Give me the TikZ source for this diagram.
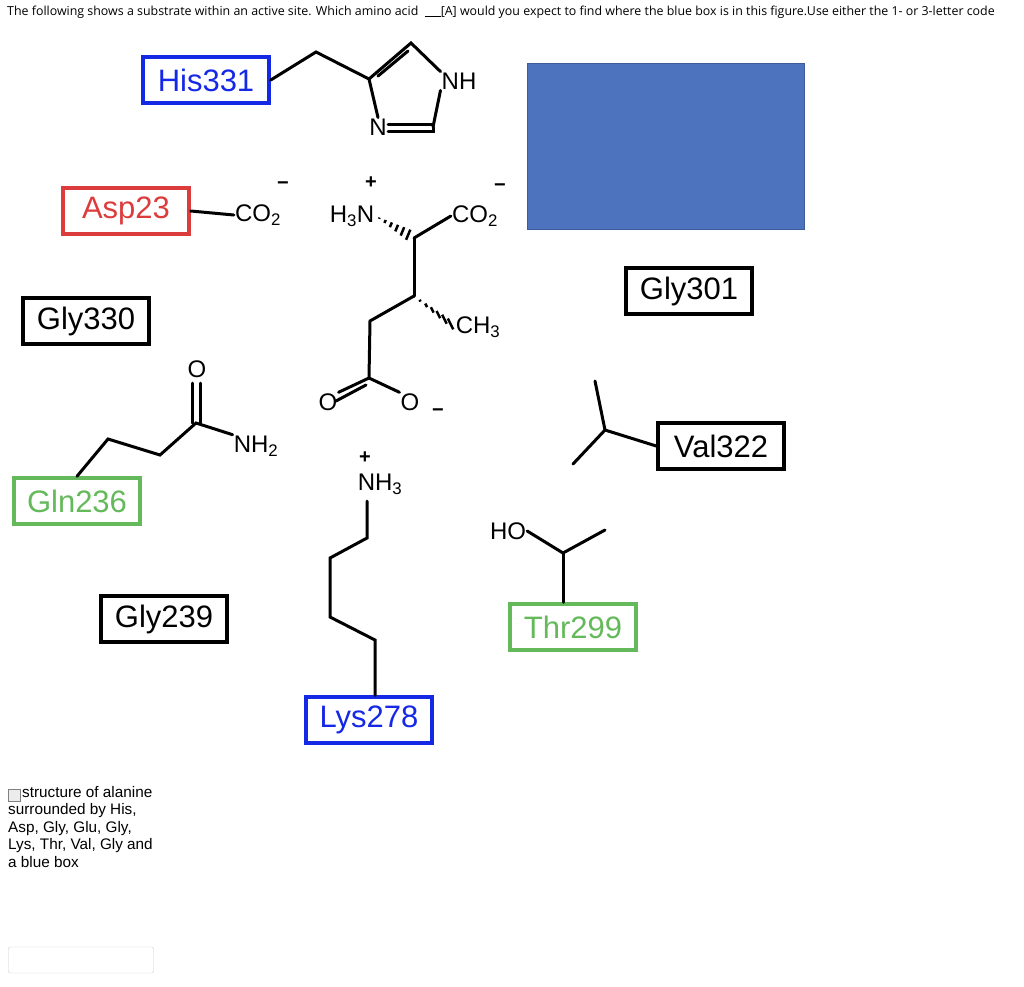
\documentclass[tikz,border=0pt]{standalone}
\usepackage{fontspec}
\usetikzlibrary{calc}
\setmainfont{Liberation Sans}
\newfontfamily\qfont{Open Sans}
\definecolor{hisblue}{RGB}{20,40,230}
\definecolor{aspred}{RGB}{220,60,60}
\definecolor{glngreen}{RGB}{100,185,90}
\definecolor{boxblue}{RGB}{78,115,190}
\begin{document}
\begin{tikzpicture}[x=1pt,y=-1pt,
  res/.style={draw,line width=3.5pt,font=\fontsize{31}{31}\selectfont,inner sep=0pt,minimum height=46pt,minimum width=126pt},
  bond/.style={line width=3pt,line cap=round},
  lbl/.style={font=\fontsize{24}{24}\selectfont,inner sep=1pt},
  chg/.style={font=\fontsize{20}{20}\selectfont\bfseries,inner sep=0pt}]
\useasboundingbox (0,0) rectangle (1024,986);
\node[anchor=west,font=\qfont\fontsize{12.4}{13}\selectfont,inner sep=0pt] (q) at (7,12) {The following shows a substrate within an active site. Which amino acid \ \underline{\hspace{16pt}}[A] would you expect to find where the blue box is in this figure.Use either the 1- or 3-letter code};
% residue boxes
\node[res,hisblue,text=hisblue] (his) at (206,80) {His331};
\node[res,aspred,text=aspred] (asp) at (126,211) {Asp23};
\node[res] (g330) at (86,321) {Gly330};
\node[res,glngreen,text=glngreen] (gln) at (77,501) {Gln236};
\node[res] (g239) at (164,619) {Gly239};
\node[res,hisblue,text=hisblue] (lys) at (369,720) {Lys278};
\node[res] (g301) at (689,291) {Gly301};
\node[res] (val) at (721,446) {Val322};
\node[res,glngreen,text=glngreen] (thr) at (573,627) {Thr299};
\node[draw=boxblue!80!black,fill=boxblue,minimum width=277pt,minimum height=166pt,inner sep=0pt] (bb) at (666,146) {};
% His
\coordinate (h1) at (316,52); \coordinate (c1) at (369,79); \coordinate (c2) at (411,43);
\coordinate (c3) at (433,127);
\node[lbl] (nh) at (459,81) {NH};
\node[lbl] (nn) at (378,127) {N};
\draw[bond] (his.east) -- (h1) -- (c1) -- (c2) -- (nh.north west);
\draw[bond] (nh.south west) -- (c3);
\draw[bond] (c1) -- (nn.north);
\draw[bond] (378,76) -- (408,51);
\draw[bond] (388,124) -- (433,124);
\draw[bond] (388,131) -- (433,131) -- (c3);
% Asp
\node[lbl] (co2a) at (258,215) {CO\textsubscript{2}};
\node[chg] at (283,186) {\textminus};
\draw[bond] (asp.east) -- (co2a.west);
% alanine-like substrate
\node[lbl] (h3n) at (352,216) {H\textsubscript{3}N};
\node[chg] at (371,183) {+};
\node[lbl] (co2b) at (475,216) {CO\textsubscript{2}};
\node[chg] at (500,188) {\textminus};
\coordinate (ca) at (414,238); \coordinate (cb) at (414,296);
\foreach \t in {0.1,0.25,0.4,0.55,0.7,0.85}
  \draw[line width=2.5pt] ($(h3n.east)!\t!(ca)+(-\t*2.5,\t*6)$) -- ($(h3n.east)!\t!(ca)+(\t*2.5,-\t*6)$);
\draw[bond] (ca) -- (co2b.west) ; \draw[bond] (ca) -- (cb);
\node[lbl] (ch3) at (478,327) {CH\textsubscript{3}};
\foreach \t in {0.15,0.3,0.45,0.6,0.75,0.9}
  \draw[line width=2.5pt] ($(cb)!\t!(ch3.west)+(-\t*3,-\t*6)$) -- ($(cb)!\t!(ch3.west)+(\t*3,\t*6)$);
\coordinate (cg) at (370,321); \coordinate (cc) at (369,378);
\node[lbl] (ol) at (328,402) {O};
\node[lbl] (or) at (410,402) {O};
\node[chg] at (438,413) {\textminus};
\draw[bond] (cb) -- (cg) -- (cc) -- (or.north west);
\draw[bond] (cc) -- (ol.north east);
\draw[bond] (cc)++(-3,7) -- ++(-30,16);
% Gln
\coordinate (q1) at (108,439); \coordinate (q2) at (160,455); \coordinate (q3) at (196,423);
\node[lbl] (oq) at (197,369) {O};
\node[lbl] (nh2) at (256,446) {NH\textsubscript{2}};
\draw[bond] (gln.north) -- (q1) -- (q2) -- (q3) -- (nh2.north west);
\draw[bond] (q3) ++(-4,0) -- ++(0,-40);
\draw[bond] (q3) ++(4,0) -- ++(0,-40);
% Lys
\node[lbl] (nh3) at (380,484) {NH\textsubscript{3}};
\node[chg] at (365,458) {+};
\coordinate (l1) at (367,538); \coordinate (l2) at (330,558); \coordinate (l3) at (330,617); \coordinate (l4) at (375,640);
\draw[bond] (367,501) -- (l1) -- (l2) -- (l3) -- (l4) -- (lys.north -| l4);
% Val
\coordinate (v1) at (595,381); \coordinate (v2) at (605,430); \coordinate (v3) at (573,464);
\draw[bond] (v1) -- (v2) -- (v3); \draw[bond] (v2) -- (val.west);
% Thr
\node[lbl] (ho) at (508,531) {HO};
\coordinate (t1) at (563,553); \coordinate (t2) at (605,530);
\draw[bond] (ho.east) -- (t1) -- (t2); \draw[bond] (t1) -- (thr.north -| t1);
% alt text
\node[draw=gray,fill=gray!15,minimum size=12pt,inner sep=0pt] (img) at (14,795) {};
\node[anchor=north west,align=left,font=\fontsize{15.3}{17.5}\selectfont,inner sep=0pt] (alt) at (8,786) {\hspace{14pt}structure of alanine\\surrounded by His,\\Asp, Gly, Glu, Gly,\\Lys, Thr, Val, Gly and\\a blue box};
\node[draw=gray!40,rounded corners=2pt,minimum width=145pt,minimum height=26pt,inner sep=0pt] (inp) at (81,960) {};
\end{tikzpicture}
\end{document}
